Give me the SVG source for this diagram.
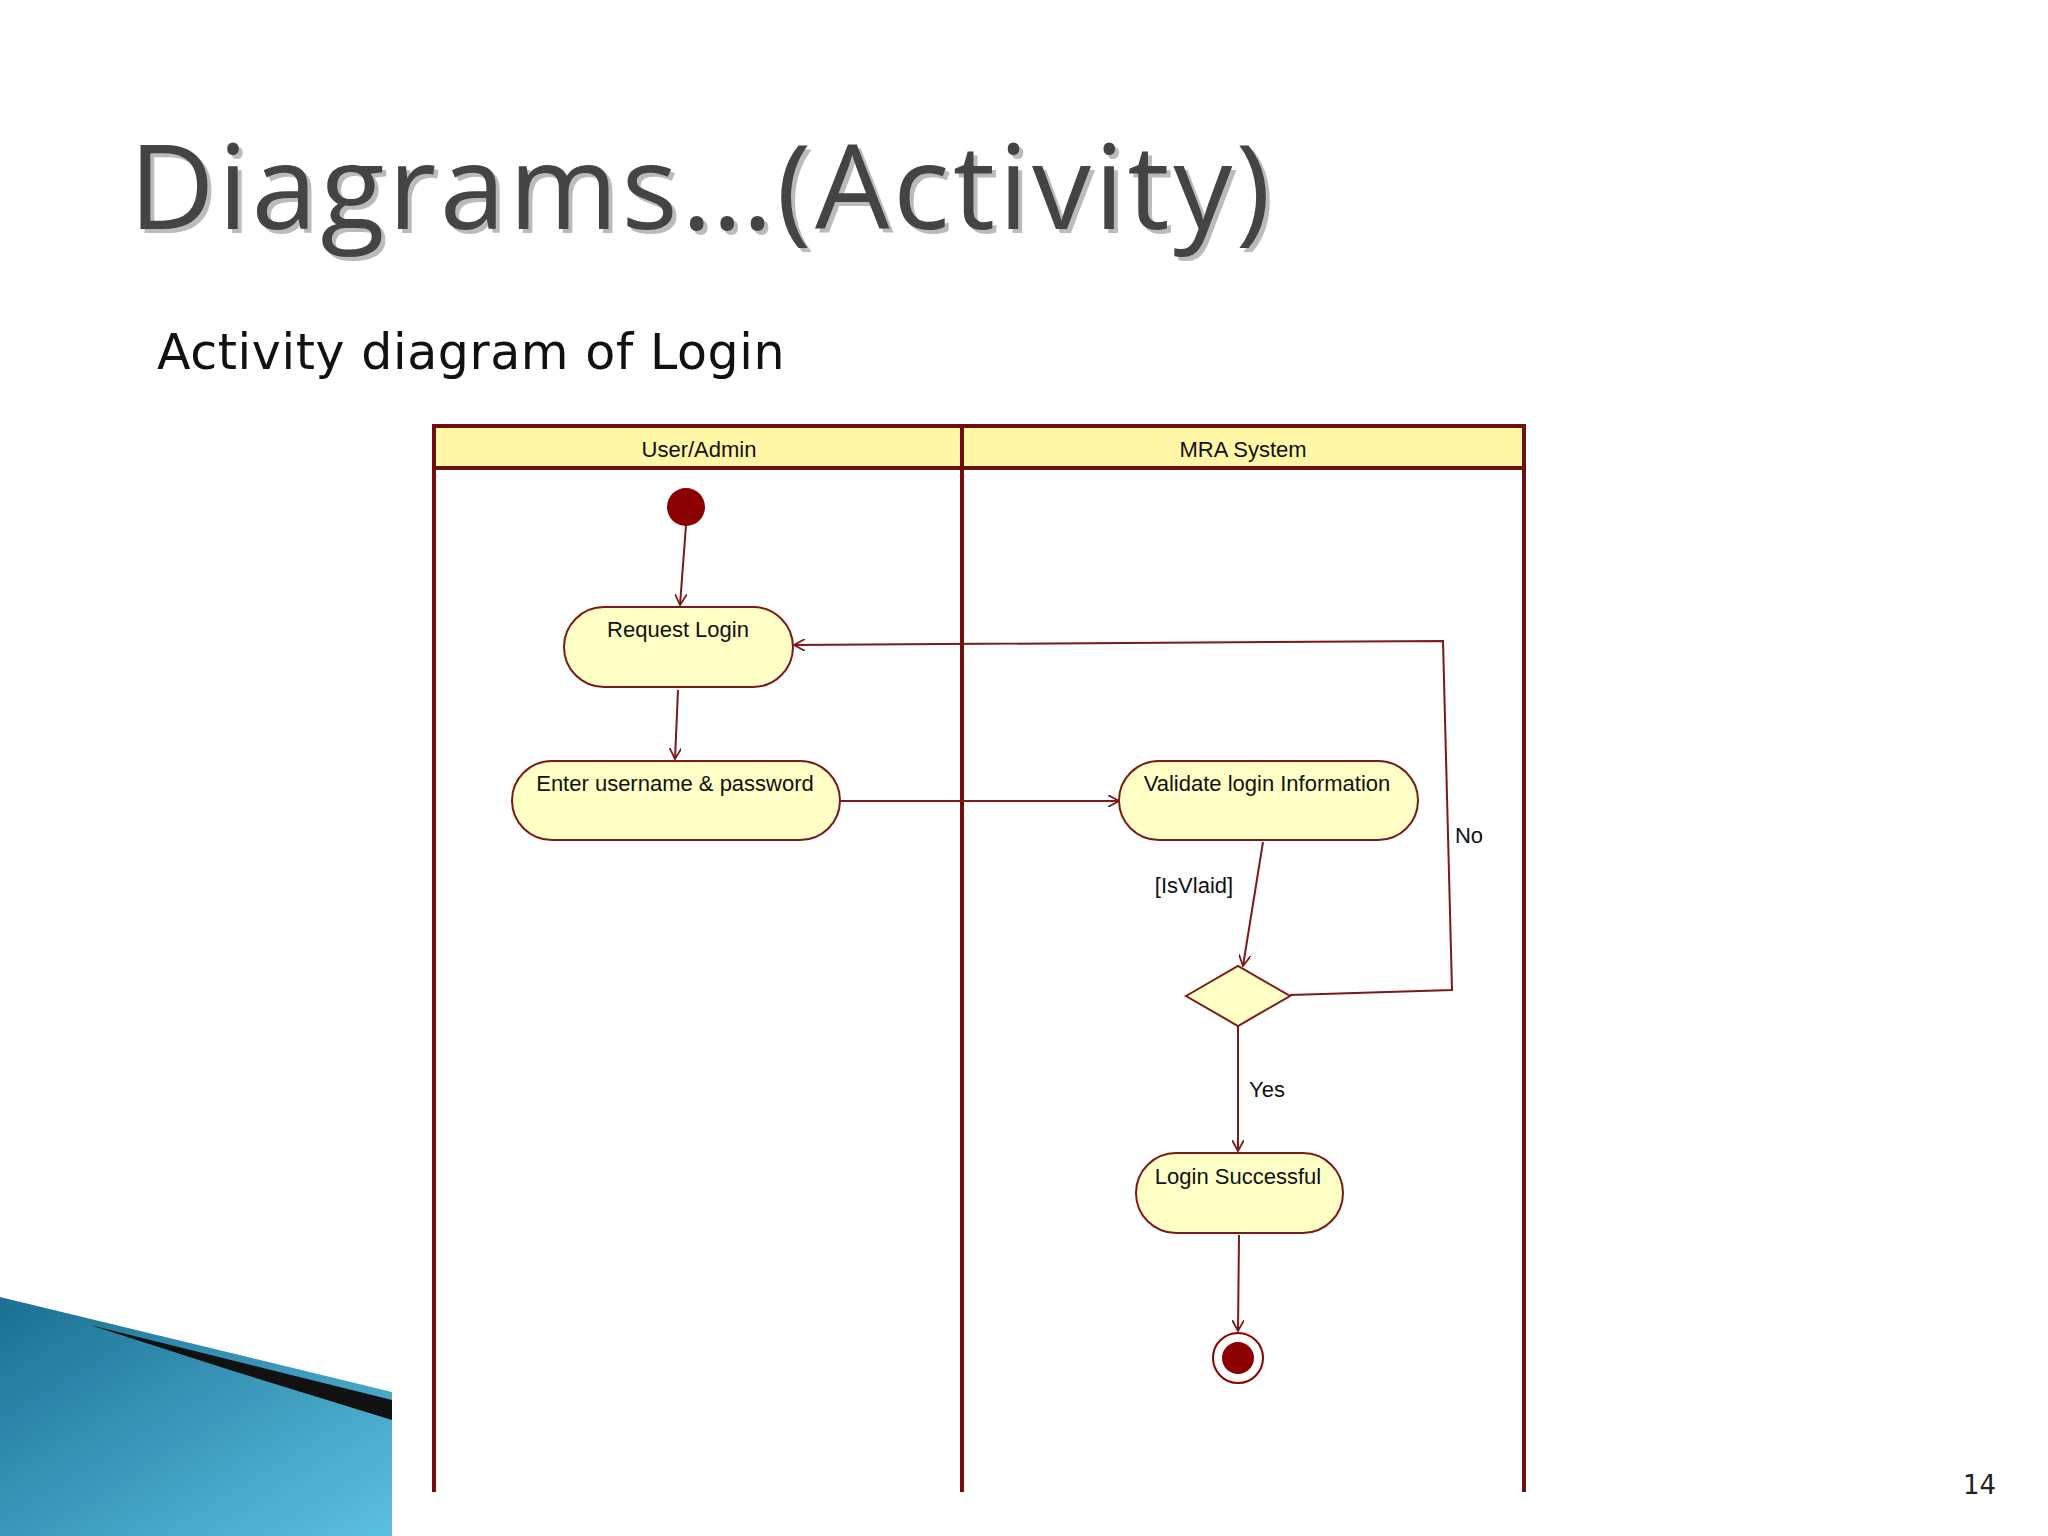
<svg xmlns="http://www.w3.org/2000/svg" width="2048" height="1536" viewBox="0 0 2048 1536">
<defs>
<style>
.ln{stroke:#7a1a1a;stroke-width:2;fill:none}
.lane{stroke:#6e1010;stroke-width:4;fill:none}
.act{fill:#ffffc6;stroke:#7a1a1a;stroke-width:2}
.t{font-family:"Liberation Sans",Arial,sans-serif;font-size:22px;fill:#111;text-anchor:middle}
</style>
<marker id="ah" viewBox="0 0 12 12" refX="11" refY="6" markerWidth="12" markerHeight="12" markerUnits="userSpaceOnUse" orient="auto"><path d="M0,0 L11,6 L0,12" fill="none" stroke="#7a1a1a" stroke-width="1.8"/></marker>
<linearGradient id="bl" x1="0" y1="0" x2="1" y2="1"><stop offset="0" stop-color="#1a6f93"/><stop offset="1" stop-color="#5cc0e0"/></linearGradient>
</defs>
<rect width="2048" height="1536" fill="#ffffff"/>
<polygon points="0,1297 392,1392 392,1536 0,1536" fill="url(#bl)"/>
<polygon points="90,1325 392,1400 392,1420 230,1370" fill="#111"/>
<text x="133" y="233" font-family="'Open Sans','DejaVu Sans',sans-serif" font-size="118" letter-spacing="3.5" fill="#bbb">Diagrams…(Activity)</text>
<text x="129" y="229" font-family="'Open Sans','DejaVu Sans',sans-serif" font-size="118" letter-spacing="3.5" fill="#444">Diagrams…(Activity)</text>
<text x="157" y="369" font-family="'DejaVu Sans',sans-serif" font-size="49" letter-spacing="0.6" fill="#111">Activity diagram of Login</text>
<text x="1996" y="1494" font-family="'DejaVu Sans',sans-serif" font-size="26" fill="#222" text-anchor="end">14</text>
<g id="lanes">
<rect x="434" y="426" width="1090" height="42" fill="#fff6a6"/>
<path class="lane" d="M434,1492 V426 H1524 V1492 M962,426 V1492 M434,468 H1524"/>
<text class="t" x="699" y="457">User/Admin</text>
<text class="t" x="1243" y="457">MRA System</text>
</g>
<g id="connectors">
<path class="ln" d="M686,525 L680,605" marker-end="url(#ah)"/>
<path class="ln" d="M678,690 L675,759" marker-end="url(#ah)"/>
<path class="ln" d="M840,801 L1119,801" marker-end="url(#ah)"/>
<path class="ln" d="M1263,842 L1243,966" marker-end="url(#ah)"/>
<text class="t" x="1194" y="893">[IsVlaid]</text>
<path class="ln" d="M1238,1026 L1238,1151" marker-end="url(#ah)"/>
<text class="t" x="1267" y="1097">Yes</text>
<path class="ln" d="M1239,1235 L1238,1331" marker-end="url(#ah)"/>
<path class="ln" d="M1290,995 L1452,990 L1443,641 L794,645" marker-end="url(#ah)"/>
<text class="t" x="1469" y="843">No</text>
</g>
<g id="start"><circle cx="686" cy="507" r="19" fill="#8b0000"/></g>
<g id="request"><rect class="act" x="564" y="607" width="229" height="80" rx="40"/><text class="t" x="678" y="637">Request Login</text></g>
<g id="enter"><rect class="act" x="512" y="761" width="328" height="79" rx="40"/><text class="t" x="675" y="791">Enter username &amp; password</text></g>
<g id="validate"><rect class="act" x="1119" y="761" width="299" height="79" rx="40"/><text class="t" x="1267" y="791">Validate login Information</text></g>
<g id="decision"><polygon class="act" points="1186,996 1238,966 1290,996 1238,1026"/></g>
<g id="success"><rect class="act" x="1136" y="1153" width="207" height="80" rx="40"/><text class="t" x="1238" y="1184">Login Successful</text></g>
<g id="end"><circle cx="1238" cy="1358" r="25" fill="#fff" stroke="#8b0000" stroke-width="2"/><circle cx="1238" cy="1358" r="16" fill="#8b0000"/></g>
</svg>
